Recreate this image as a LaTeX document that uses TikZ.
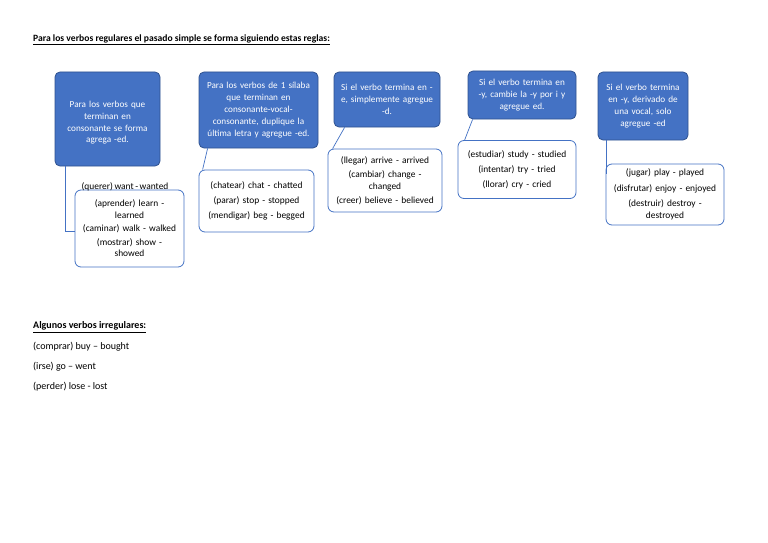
\documentclass[tikz,border=0pt]{standalone}
\usepackage{fontspec}
\setmainfont{Carlito}
\newfontfamily\boxfont{Carlito}[WordSpace=0.75]
\begin{document}
\begin{tikzpicture}[x=1pt,y=-1pt,
  bluebox/.style={draw=bdark, fill=oblue, rounded corners=5pt, line width=0.8pt,
    text=white, align=center, font=\boxfont\fontsize{9.2}{11.8}\selectfont, inner sep=0.5pt},
  whitebox/.style={draw=oblue, fill=white, rounded corners=6pt, line width=0.8pt,
    text=black, align=center, font=\boxfont\fontsize{9.4}{11.5}\selectfont, inner sep=0.5pt},
  conn/.style={draw=oblue, line width=0.7pt},
  plain/.style={anchor=west, inner sep=0pt, font=\fontsize{10}{11}\selectfont},
]
\definecolor{oblue}{HTML}{4472C4}
\definecolor{bdark}{HTML}{2F528F}
\useasboundingbox (0,0) rectangle (768,543);
\fill[white] (0,0) rectangle (768,543);

\node[plain, font=\fontsize{9.6}{11}\selectfont\bfseries] (title) at (33,40) {\underline{Para los verbos regulares el pasado simple se forma siguiendo estas reglas:}};

% blue boxes
\node[bluebox, minimum width=105pt, minimum height=94pt, text width=103pt] (b1) at (107.5,119) {\rule{0pt}{14pt}Para los verbos que\\terminan en\\consonante se forma\\agrega -ed.};
\node[bluebox, minimum width=119pt, minimum height=76pt, text width=118pt] (b2) at (258.5,110) {Para los verbos de 1 sílaba\\que terminan en\\consonante-vocal-\\consonante, duplique la\\última letra y agregue -ed.};
\node[bluebox, minimum width=106pt, minimum height=55pt, text width=105pt] (b3) at (387,99.5) {Si el verbo termina en -\\e, simplemente agregue\\-d.};
\node[bluebox, minimum width=108pt, minimum height=48pt, text width=107pt] (b4) at (522,95) {Si el verbo termina en\\-y, cambie la -y por i y\\agregue ed.};
\node[bluebox, minimum width=90pt, minimum height=68pt, text width=89pt] (b5) at (643,106) {Si el verbo termina\\en -y, derivado de\\una vocal, solo\\agregue -ed};

% white boxes
\node[whitebox, minimum width=109pt, minimum height=77pt, text width=108pt] (w1) at (129.5,228.5) {(aprender) learn -\\learned\\[2pt](caminar) walk - walked\\[2pt](mostrar) show -\\showed};
\node[inner sep=0pt, font=\boxfont\fontsize{9.4}{9}\selectfont] (w1top) at (125,187) {(querer) want - wanted};
\node[whitebox, minimum width=115pt, minimum height=62pt, text width=114pt, font=\boxfont\fontsize{9.4}{15}\selectfont] (w2) at (256.5,201) {(chatear) chat - chatted\\(parar) stop - stopped\\(mendigar) beg - begged};
\node[whitebox, minimum width=114pt, minimum height=63pt, text width=113pt] (w3) at (385,180.5) {(llegar) arrive - arrived\\[3pt](cambiar) change -\\changed\\[3pt](creer) believe - believed};
\node[whitebox, minimum width=118pt, minimum height=58pt, text width=117pt, font=\boxfont\fontsize{9.4}{15}\selectfont] (w4) at (517,169.5) {(estudiar) study - studied\\(intentar) try - tried\\(llorar) cry - cried};
\node[whitebox, minimum width=118pt, minimum height=61pt, text width=117pt, font=\boxfont\fontsize{9.4}{15}\selectfont] (w5) at (665,194.5) {(jugar) play - played\\[1pt](disfrutar) enjoy - enjoyed\\(destruir) destroy -\\[-3pt]destroyed};

% connectors
\draw[conn] ([xshift=11pt]b1.south west) |- ([yshift=-2.5pt]w1.west);
\draw[conn] ([xshift=9pt]b2.south west) -- ([xshift=4pt]w2.north west);
\draw[conn] ([xshift=11pt]b3.south west) -- ([xshift=5pt]w3.north west);
\draw[conn] ([xshift=5pt]b4.south west) -- ([xshift=7pt]w4.north west);
\draw[conn] ([xshift=9pt]b5.south west) -- ([xshift=1pt,yshift=-10pt]w5.north west);

% irregular verbs
\node[plain, font=\fontsize{10}{11}\selectfont\bfseries] (irr) at (33,327) {\underline{Algunos verbos irregulares:}};
\node[plain] (v1) at (33,347) {(comprar) buy – bought};
\node[plain] (v2) at (33,367) {(irse) go – went};
\node[plain] (v3) at (33,387) {(perder) lose - lost};
\end{tikzpicture}
\end{document}
